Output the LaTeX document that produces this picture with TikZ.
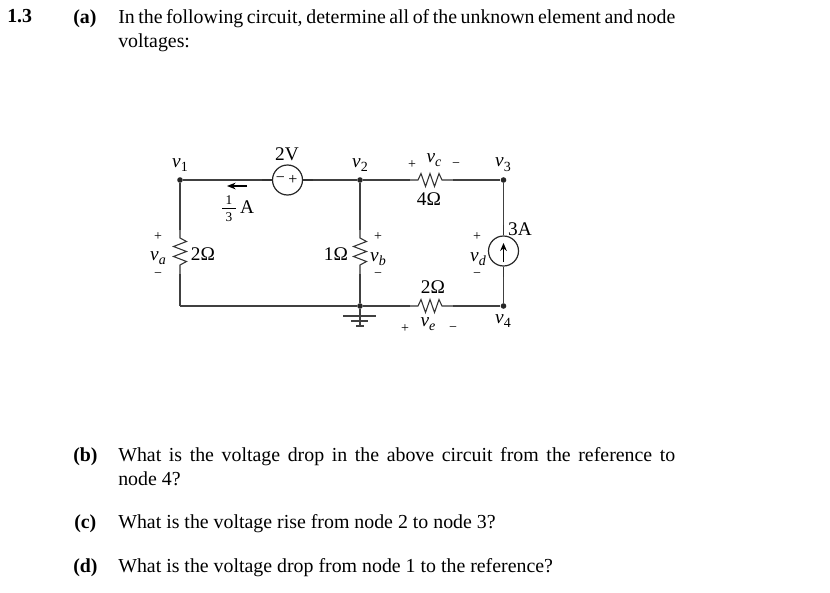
\documentclass[tikz,border=0pt]{standalone}
\usepackage{fontspec}
\setmainfont{Liberation Serif}
\usetikzlibrary{arrows.meta}
\newcommand{\volt}[2]{\textit{#1}\raisebox{-0.25em}{\fontsize{10.5}{10.5}\selectfont #2}}
\newcommand{\voltit}[2]{\textit{#1}\raisebox{-0.2em}{\fontsize{10.5}{10.5}\selectfont\textit{#2}}}
\tikzset{
  x=0.75pt,y=-0.75pt,
  wire/.style={line width=0.85pt,color=black!75},
  stub/.style={line width=1.15pt,color=black!80},
  res/.style={line width=0.8pt,color=black!80,line join=miter},
  dotn/.style={circle,fill=black!85,inner sep=0pt,minimum size=4.2pt},
  src/.style={circle,draw=black!85,fill=white,line width=0.9pt,minimum size=22.5pt,inner sep=0pt},
  body/.style={anchor=north west,inner sep=0pt,font=\fontsize{14.9}{18}\selectfont},
  lab/.style={inner sep=0pt,font=\fontsize{14.5}{14.5}\selectfont},
  vlab/.style={inner sep=0pt,font=\fontsize{14.5}{14.5}\selectfont},
  sgn/.style={inner sep=0pt,font=\fontsize{10.5}{10.5}\selectfont},
  hd/.style={anchor=north west,inner sep=0pt,font=\bfseries\fontsize{14.9}{18}\selectfont}
}
\begin{document}
\begin{tikzpicture}
\useasboundingbox (0,0) rectangle (830,592);
\fill[white] (0,0) rectangle (830,592);
% text
\node[hd] (n13) at (7,9) {1.3};
\node[hd] (pa) at (73,9) {(a)};
\node[body,align=left] (ta) at (118,9) {\makebox[417.75pt][s]{In the following circuit, determine all of the unknown element and node}\\voltages:};
\node[hd] (pb) at (73,447) {(b)};
\node[body,align=left] (tb) at (118,447) {\makebox[417.75pt][s]{What is the voltage drop in the above circuit from the reference to}\\node 4?};
\node[hd] (pc) at (74,514) {(c)};
\node[body] (tc) at (118,514) {What is the voltage rise from node 2 to node 3?};
\node[hd] (pd) at (73,558) {(d)};
\node[body] (td) at (118,558) {What is the voltage drop from node 1 to the reference?};
% junctions
\node[dotn] (v1) at (180,180) {};
\node[dotn] (v2) at (360,180) {};
\node[dotn] (v3) at (503.5,180) {};
\node[dotn] (v4) at (503.5,306) {};
\node[dotn] (g) at (360,306) {};
\coordinate (bl) at (180,306);
% resistors endpoints
\coordinate (ra1) at (180,230); \coordinate (ra2) at (180,274);
\coordinate (rb1) at (360,230); \coordinate (rb2) at (360,274);
\coordinate (rc1) at (410,180); \coordinate (rc2) at (453,180);
\coordinate (re1) at (410,306); \coordinate (re2) at (453,306);
% sources
\node[src] (sv) at (287.5,180) {};
\node[src] (si) at (503.5,251) {};
\node[inner sep=0pt,font=\fontsize{12}{12}\selectfont] (svm) at (280.5,180) {\textminus};
\node[inner sep=0pt,font=\fontsize{12}{12}\selectfont] (svp) at (293,180) {+};
% wires
\draw[wire] (v1) -- (sv);
\draw[wire] (sv) -- (v2);
\draw[wire] (v2) -- (rc1);
\draw[wire] (rc2) -- (v3);
\draw[wire] (v3) -- (si);
\draw[wire] (si) -- (v4);
\draw[wire] (v4) -- (re2);
\draw[wire] (re1) -- (g);
\draw[wire] (g) -- (bl);
\draw[wire] (bl) -- (ra2);
\draw[wire] (ra1) -- (v1);
\draw[wire] (v2) -- (rb1);
\draw[wire] (rb2) -- (g);
% thick stubs next to the elements
\draw[stub] (sv.west) -- ++(-10,0);
\draw[stub] (sv.east) -- ++(10,0);
\draw[stub] (si.north) -- ++(0,-10);
\draw[stub] (si.south) -- ++(0,10);
% resistor zigzags
\draw[res] (ra1) -- ++(0,8) -- ++(6.5,3.5) -- ++(-13,5) -- ++(13,5) -- ++(-13,5) -- ++(13,5) -- ++(-6.5,3.5) -- (ra2);
\draw[res] (rb1) -- ++(0,8) -- ++(6.5,3.5) -- ++(-13,5) -- ++(13,5) -- ++(-13,5) -- ++(13,5) -- ++(-6.5,3.5) -- (rb2);
\draw[res] (rc1) -- ++(8,0) -- ++(3,-6.5) -- ++(4.5,13) -- ++(4.5,-13) -- ++(4.5,13) -- ++(4.5,-13) -- ++(3,6.5) -- (rc2);
\draw[res] (re1) -- ++(8,0) -- ++(3,-6.5) -- ++(4.5,13) -- ++(4.5,-13) -- ++(4.5,13) -- ++(4.5,-13) -- ++(3,6.5) -- (re2);
% source arrow
\coordinate (ia) at (503.5,262); \coordinate (ib) at (503.5,243);
\draw[line width=0.8pt,-{Stealth[length=6pt,width=5pt]}] (ia) -- (ib);
% current arrow
\coordinate (ca) at (247,186); \coordinate (cb) at (227,186);
\draw[line width=0.8pt,-{Stealth[length=6.5pt,width=5pt]}] (ca) -- (cb);
% ground
\coordinate (g1) at (360,326);
\coordinate (g2a) at (343,316); \coordinate (g2b) at (376,316);
\coordinate (g3a) at (351,321); \coordinate (g3b) at (368,321);
\coordinate (g4a) at (356,326); \coordinate (g4b) at (364,326);
\draw[wire] (g) -- (g1);
\draw[wire] (g2a) -- (g2b);
\draw[wire] (g3a) -- (g3b);
\draw[wire] (g4a) -- (g4b);
% node labels
\node[vlab] (lv1) at (180,165) {\volt{v}{1}};
\node[vlab] (lv2) at (360,165) {\volt{v}{2}};
\node[vlab] (lv3) at (503,165) {\volt{v}{3}};
\node[vlab] (lv4) at (503,321) {\volt{v}{4}};
% values
\node[lab] (l2v) at (287,154) {2V};
\node[lab] (l4o) at (429,199) {4Ω};
\node[lab] (l2oe) at (433,287) {2Ω};
\node[lab] (l2oa) at (203,254) {2Ω};
\node[lab] (l1o) at (336,254) {1Ω};
\node[lab] (l3a) at (520,229) {3A};
% fraction
\node[inner sep=0pt,font=\fontsize{10}{10}\selectfont] (fn) at (229,200) {1};
\node[inner sep=0pt,font=\fontsize{10}{10}\selectfont] (fd) at (229,217) {3};
\coordinate (fa) at (222,208); \coordinate (fb) at (236,208);
\draw[line width=0.7pt] (fa) -- (fb);
\node[lab] (la) at (247,207) {A};
% polarity
\node[sgn] (pa1) at (158,237) {+};
\node[vlab] (lva) at (158,258) {\voltit{v}{a}};
\node[sgn] (pa2) at (158,275) {\textminus};
\node[sgn] (pb1) at (378,237) {+};
\node[vlab] (lvb) at (378,259) {\voltit{v}{b}};
\node[sgn] (pb2) at (378,275) {\textminus};
\node[sgn] (pc1) at (412,165) {+};
\node[vlab] (lvc) at (434,160) {\voltit{v}{c}};
\node[sgn] (pc2) at (456,165) {\textminus};
\node[sgn] (pd1) at (477,237) {+};
\node[vlab] (lvd) at (478,259) {\voltit{v}{d}};
\node[sgn] (pd2) at (477,275) {\textminus};
\node[sgn] (pe1) at (405,329) {+};
\node[vlab] (lve) at (428,324) {\voltit{v}{e}};
\node[sgn] (pe2) at (453,329) {\textminus};
\end{tikzpicture}
\end{document}
